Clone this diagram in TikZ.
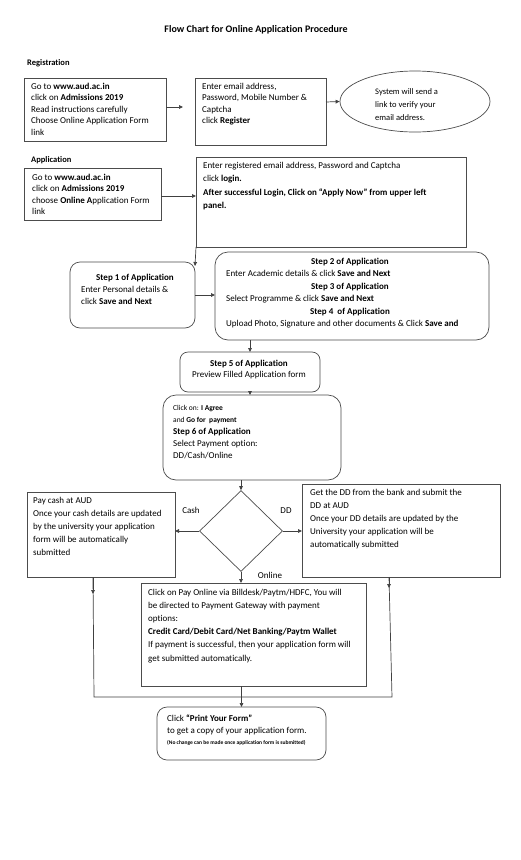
\documentclass[tikz,border=0pt]{standalone}
\usepackage{fontspec}
\setmainfont{Carlito}[Ligatures=NoCommon]
\usetikzlibrary{shapes.geometric,arrows.meta}
\begin{document}
\begin{tikzpicture}[x=1pt,y=-1pt,
  box/.style={draw=black!70, line width=0.7pt, anchor=north west, inner sep=0pt, outer sep=0pt},
  rbox/.style={box, rounded corners=#1},
  txt/.style={anchor=base west, inner sep=0pt, align=left, font=\fontsize{9}{11.4}\selectfont},
  ctxt/.style={anchor=base, inner sep=0pt, align=center, font=\fontsize{9}{11.4}\selectfont},
  arr/.style={draw=black!75, line width=0.7pt, -{Triangle[length=4pt,width=3.6pt]}},
  conn/.style={draw=black!75, line width=0.7pt},
  lbl/.style={anchor=base, inner sep=0pt, font=\fontsize{9}{11}\selectfont}
]
\useasboundingbox[fill=white] (0,0) rectangle (521,860);

% title and section labels
\node[anchor=base, inner sep=0pt, font=\fontsize{10}{12}\selectfont\bfseries] (title) at (256,32.5) {Flow Chart for Online Application Procedure};
\node[anchor=base west, inner sep=0pt, font=\fontsize{8.5}{10}\selectfont\bfseries] (labreg) at (27,65.5) {Registration};
\node[anchor=base west, inner sep=0pt, font=\fontsize{8.5}{10}\selectfont\bfseries] (labapp) at (31,162.5) {Application};

% boxes
\node[box, minimum width=142pt, minimum height=63pt] (r1) at (24,78) {};
\node[box, minimum width=131pt, minimum height=67pt] (r2) at (195,78) {};
\node[draw=black!70, line width=0.7pt, ellipse, minimum width=150pt, minimum height=61pt, inner sep=0pt] (ell) at (415,101.5) {};
\node[box, minimum width=137pt, minimum height=52pt] (a1) at (24,168) {};
\node[box, minimum width=270pt, minimum height=90pt] (a2) at (196,157) {};
\node[rbox=10pt, minimum width=125pt, minimum height=66pt] (s1) at (70,262) {};
\node[rbox=13pt, minimum width=274pt, minimum height=88pt] (s2) at (215,252) {};
\node[rbox=8pt, minimum width=140pt, minimum height=40pt] (s5) at (180,352) {};
\node[rbox=13pt, minimum width=178pt, minimum height=85pt] (s6) at (163,395) {};
\node[draw=black!70, line width=0.7pt, diamond, minimum width=83pt, minimum height=81pt, inner sep=0pt] (dia) at (241,531) {};
\node[box, minimum width=148pt, minimum height=85pt] (cash) at (27,492) {};
\node[box, minimum width=198pt, minimum height=93pt] (dd) at (302,484) {};
\node[box, minimum width=225pt, minimum height=103pt] (onl) at (141,583) {};
\node[rbox=10pt, minimum width=169pt, minimum height=53pt] (pr) at (157,707) {};

% texts (multi-line nodes: base = baseline of the last line)
\node[txt] (tr1) at (31,135.1) {Go to \textbf{www.aud.ac.in}\\click on \textbf{Admissions 2019}\\Read instructions carefully\\Choose Online Application Form\\link};
\node[txt] (tr2) at (202,123.7) {Enter email address,\\Password, Mobile Number \&\\Captcha\\click \textbf{Register}};
\node[txt, font=\fontsize{8.5}{13.3}\selectfont] (tell) at (375,120.6) {System will send a\\link to verify your\\email address.};
\node[txt] (ta1) at (32,214.7) {Go to \textbf{www.aud.ac.in}\\click on \textbf{Admissions 2019}\\choose \textbf{Online A}pplication Form\\link};
\node[txt, font=\fontsize{9}{13.3}\selectfont] (ta2) at (203,208.4) {Enter registered email address, Password and Captcha\\click \textbf{login.}\\\textbf{After successful Login, Click on “Apply Now” from upper left}\\\textbf{panel.}};
\node[ctxt, font=\fontsize{9}{11.4}\selectfont\bfseries] (ts1h) at (135,280.5) {Step 1 of Application};
\node[txt, font=\fontsize{9}{12.4}\selectfont] (ts1) at (81,304.9) {Enter Personal details \&\\click \textbf{Save and Next}};
\node[ctxt, font=\fontsize{9}{11.4}\selectfont\bfseries] (ts2h) at (350,264.5) {Step 2 of Application};
\node[txt] (ts2) at (226,276.5) {Enter Academic details \& click \textbf{Save and Next}};
\node[ctxt, font=\fontsize{9}{11.4}\selectfont\bfseries] (ts3h) at (350,289.5) {Step 3 of Application};
\node[txt] (ts3) at (226,301.5) {Select Programme \& click \textbf{Save and Next}};
\node[ctxt, font=\fontsize{9}{11.4}\selectfont\bfseries] (ts4h) at (350,314.5) {Step 4\ \ of Application};
\node[txt] (ts4) at (226,326.5) {Upload Photo, Signature and other documents \& Click \textbf{Save and}};
\node[ctxt, font=\fontsize{9}{11}\selectfont] (ts5) at (249,377.5) {\textbf{Step 5 of Application}\\Preview Filled Application form};
\node[txt, font=\fontsize{7.5}{12}\selectfont] (ts6a) at (173,422.5) {Click on: \textbf{I Agree}\\and \textbf{Go for\ \ payment}};
\node[txt, font=\fontsize{9}{12}\selectfont] (ts6b) at (173,458.5) {\textbf{Step 6 of Application}\\Select Payment option:\\DD/Cash/Online};
\node[lbl] (lcash) at (191,513.5) {Cash};
\node[lbl] (ldd) at (286,513.5) {DD};
\node[lbl] (lonl) at (270,578.5) {Online};
\node[txt, font=\fontsize{9}{13}\selectfont] (tcash) at (33,555.5) {Pay cash at AUD\\Once your cash details are updated\\by the university your application\\form will be automatically\\submitted};
\node[txt, font=\fontsize{9}{13}\selectfont] (tdd) at (310,547.5) {Get the DD from the bank and submit the\\DD at AUD\\Once your DD details are updated by the\\University your application will be\\automatically submitted};
\node[txt, font=\fontsize{9}{13.1}\selectfont] (tonl) at (148,661) {Click on Pay Online via Billdesk/Paytm/HDFC, You will\\be directed to Payment Gateway with payment\\options:\\\textbf{Credit Card/Debit Card/Net Banking/Paytm Wallet}\\If payment is successful, then your application form will\\get submitted automatically.};
\node[txt, font=\fontsize{9}{12}\selectfont] (tpr) at (167,733.5) {Click \textbf{“Print Your Form”}\\to get a copy of your application form.};
\node[txt, font=\fontsize{5.5}{6}\selectfont\bfseries] (tpr2) at (167,744) {(No change can be made once application form is submitted)};

% connectors
\draw[arr, shorten >=12pt] ([yshift=2.5pt]r1.east) -- ([yshift=2.5pt]r1.east -| r2.west);
\draw[arr] ([yshift=9.5pt]r2.east) -- (ell.west);
\draw[arr] ([yshift=-2pt]a1.east) -- ([yshift=-2pt]a1.east -| a2.west);
\draw[arr] (a2.south west) -- ([yshift=-4pt]s1.north east);
\draw[arr] (s1.east) -- (s1.east -| s2.west);
\draw[arr] (s5.north |- s2.south) -- (s5.north);
\draw[arr] (s5.south) -- (s5.south |- s6.north);
\draw[arr] (dia.north |- s6.south) -- (dia.north);
\draw[arr] (dia.west) -- (dia.west -| cash.east);
\draw[arr] (dia.east) -- (dia.east -| dd.west);
\draw[arr] (dia.south) -- (dia.south |- onl.north);
\coordinate (jl) at (94,697);
\coordinate (jr) at (392,697);
\draw[arr] ([xshift=-8pt]cash.south) -- ++(0,17);
\draw[conn] ([xshift=-8pt]cash.south) -- (jl) -- (jr) -- ([xshift=-12pt]dd.south);
\draw[arr] ([xshift=-12pt]dd.south) -- ++(0,11);
\draw[arr] (pr.north |- onl.south) -- (pr.north);
\end{tikzpicture}
\end{document}
